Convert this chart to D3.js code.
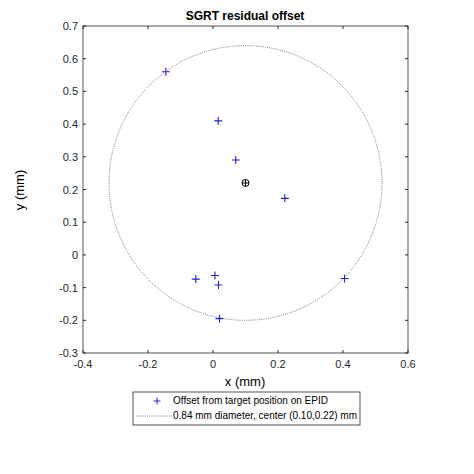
<!DOCTYPE html>
<html lang="en">
<head>
<meta charset="UTF-8">
<script src="https://d3js.org/d3.v7.min.js"></script>
<style>
body { margin: 0; background: #fff; }
text { font-family: "Liberation Sans", Arial, sans-serif; }
</style>
</head>
<body>
<svg width="474" height="474"></svg>
<script>
const xs = [-0.145, 0.016, 0.07, 0.221, -0.053, 0.006, 0.017, 0.02, 0.405];
const ys = [0.56, 0.41, 0.29, 0.173, -0.074, -0.063, -0.092, -0.195, -0.072];
const center = [0.10, 0.22];
const diameter = 0.84;
const ticks = [-0.3, -0.2, -0.1, 0, 0.1, 0.2, 0.3, 0.4, 0.5, 0.6, 0.7];
const xTicks = [-0.4, -0.2, 0, 0.2, 0.4, 0.6];

const svg = d3.select("svg");
const x = d3.scaleLinear().domain([-0.4, 0.6]).range([83, 408]);
const y = d3.scaleLinear().domain([-0.3, 0.7]).range([353, 26]);
const fmt = v => (Math.abs(v) < 1e-9 ? "0" : String(+v.toFixed(1)));

// box
svg.append("rect").attr("x", 83).attr("y", 26).attr("width", 325).attr("height", 327)
  .attr("fill", "#fff").attr("stroke", "#262626").attr("stroke-width", 0.8);

ticks.forEach(t => {
  svg.append("line").attr("x1", 83).attr("x2", 86).attr("y1", y(t)).attr("y2", y(t)).attr("stroke", "#262626");
  svg.append("line").attr("x1", 405).attr("x2", 408).attr("y1", y(t)).attr("y2", y(t)).attr("stroke", "#262626");
  svg.append("text").attr("x", 78).attr("y", y(t) + 4).attr("text-anchor", "end")
    .attr("font-size", 11).attr("fill", "#262626").text(fmt(t));
});
xTicks.forEach(t => {
  svg.append("line").attr("x1", x(t)).attr("x2", x(t)).attr("y1", 353).attr("y2", 350).attr("stroke", "#262626");
  svg.append("line").attr("x1", x(t)).attr("x2", x(t)).attr("y1", 26).attr("y2", 29).attr("stroke", "#262626");
  svg.append("text").attr("x", x(t)).attr("y", 368).attr("text-anchor", "middle")
    .attr("font-size", 11).attr("fill", "#262626").text(fmt(t));
});

svg.append("text").attr("x", 245).attr("y", 20).attr("text-anchor", "middle")
  .attr("font-size", 12).attr("font-weight", "bold").text("SGRT residual offset");
svg.append("text").attr("x", 245).attr("y", 386).attr("text-anchor", "middle")
  .attr("font-size", 13).text("x (mm)");
svg.append("text").attr("transform", "translate(24,190) rotate(-90)").attr("text-anchor", "middle")
  .attr("font-size", 13).text("y (mm)");

// circle
svg.append("ellipse").attr("cx", x(center[0])).attr("cy", y(center[1]))
  .attr("rx", x(center[0] + diameter / 2) - x(center[0]))
  .attr("ry", y(center[1]) - y(center[1] + diameter / 2))
  .attr("fill", "none").attr("stroke", "#555").attr("stroke-width", 0.8).attr("stroke-dasharray", "1,1.2");

// center marker
const cx = x(center[0]), cy = y(center[1]);
svg.append("circle").attr("cx", cx).attr("cy", cy).attr("r", 3.5).attr("fill", "none").attr("stroke", "#000");
svg.append("path").attr("d", `M${cx-3.5},${cy}H${cx+3.5}M${cx},${cy-3.5}V${cy+3.5}`).attr("stroke", "#000");

// points
const plus = (px, py, s) => `M${px-s},${py}H${px+s}M${px},${py-s}V${py+s}`;
svg.selectAll("path.pt").data(xs.map((v, i) => [v, ys[i]])).join("path")
  .attr("class", "pt").attr("d", d => plus(x(d[0]), y(d[1]), 4))
  .attr("stroke", "#2222cc").attr("stroke-width", 1.1);

// legend
const lg = svg.append("g");
lg.append("rect").attr("x", 133).attr("y", 392).attr("width", 227).attr("height", 33)
  .attr("fill", "#fff").attr("stroke", "#262626").attr("stroke-width", 0.8);
lg.append("path").attr("d", plus(157, 401, 3.5)).attr("stroke", "#2222cc");
lg.append("line").attr("x1", 136).attr("x2", 172).attr("y1", 416).attr("y2", 416)
  .attr("stroke", "#555").attr("stroke-width", 0.8).attr("stroke-dasharray", "1,1.2");
lg.append("text").attr("x", 173).attr("y", 404).attr("font-size", 10).text("Offset from target position on EPID");
lg.append("text").attr("x", 173).attr("y", 419).attr("font-size", 10).text("0.84 mm diameter, center (0.10,0.22) mm");
</script>
</body>
</html>
